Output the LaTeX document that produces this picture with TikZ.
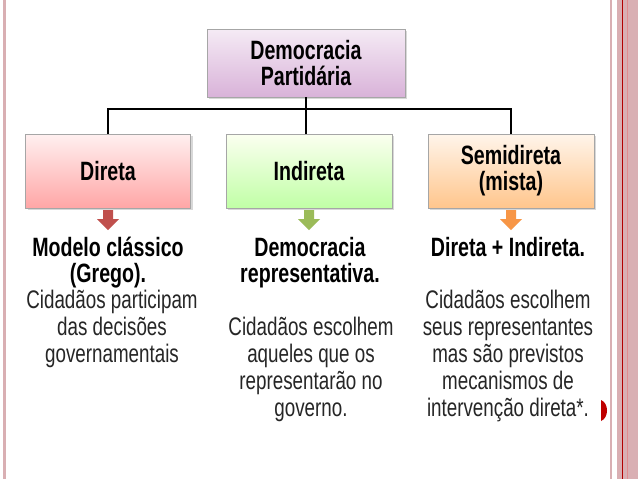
\documentclass[tikz,border=0pt]{standalone}
\usepackage{fontspec}
\setmainfont[FakeStretch=0.74]{Liberation Sans}
\usetikzlibrary{shadows}
\definecolor{ared}{HTML}{C0504D}
\definecolor{agreen}{HTML}{9BBB59}
\definecolor{aorange}{HTML}{F79646}
\definecolor{bord}{HTML}{D9AFB3}
\begin{document}
\begin{tikzpicture}[x=1pt,y=-1pt,
 box/.style={draw=black!35,minimum width=#1,drop shadow={opacity=0.3,shadow xshift=2pt,shadow yshift=-2pt},font=\bfseries\fontsize{26.5}{26}\selectfont,align=center},
 conn/.style={line width=1.6pt},
 txt/.style={font=\fontsize{25.4}{27}\selectfont,align=center,anchor=north,text=black!85},
 btxt/.style={font=\bfseries\fontsize{26.5}{26}\selectfont,align=center,anchor=north}]
\useasboundingbox (0,0) rectangle (638,479);
\fill[white] (0,0) rectangle (638,479);
% borders
\fill[bord] (3,0) rectangle (6,479);
\fill[bord] (610,0) rectangle (638,479);
\fill[white] (612,0) rectangle (617,479);
\draw[red!70!black,line width=0.8pt] (622,0) -- (622,479);
\fill[bord!80!red] (627,0) rectangle (628,479);
% boxes
\node[box=198pt,minimum height=68pt,top color=violet!8,bottom color=violet!30] (top) at (306,63) {Democracia\\Partidária};
\node[box=165pt,minimum height=74pt,top color=red!6,bottom color=red!35] (a) at (108,171) {Direta};
\node[box=166pt,minimum height=74pt,top color=lime!6!white,bottom color=lime!40!green!35] (b) at (309,171) {Indireta};
\node[box=166pt,minimum height=74pt,top color=orange!8,bottom color=orange!45] (c) at (511,171) {Semidireta\\(mista)};
\coordinate (j) at (306,109);
\draw[conn] (top.south) -- (j);
\draw[conn] (a.north) |- (j) -| (c.north);
\draw[conn] (j) -- (j |- b.north);
% down arrows
\foreach \n/\col in {a/ared,b/agreen,c/aorange}{
 \fill[\col] ([xshift=-5pt,yshift=-2pt]\n.south) -- ++(10,0) -- ++(0,9) -- ++(6,0) -- ([yshift=-22pt]\n.south) -- ([xshift=-11pt,yshift=-11pt]\n.south) -- ++(6,0) -- cycle;}
% texts
\node[btxt] (a1) at (108,234) {Modelo clássico\\(Grego).};
\node[txt] (a2) at (112,287) {Cidadãos participam\\das decisões\\governamentais};
\node[btxt] (b1) at (310,234) {Democracia\\representativa.};
\node[txt] (b2) at (311,314) {Cidadãos escolhem\\aqueles que os\\representarão no\\governo.};
\node[btxt] (c1) at (508,234) {Direta + Indireta.};
\node[txt] (c2) at (508,287) {Cidadãos escolhem\\seus representantes\\mas são previstos\\mecanismos de\\intervenção direta*.};
\fill[red!75!black] (601,400) .. controls (609,403) and (609,418) .. (601,421) -- cycle;
\end{tikzpicture}
\end{document}
